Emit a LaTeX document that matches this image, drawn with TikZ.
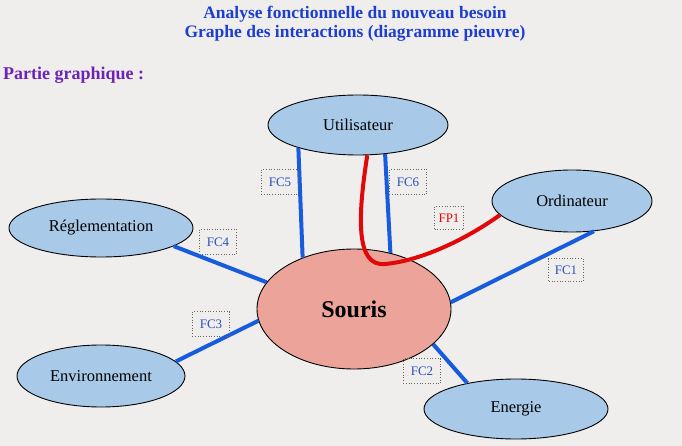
\documentclass[tikz,border=0pt]{standalone}
\usepackage{fontspec}
\setmainfont{Liberation Serif}
\usetikzlibrary{shapes.geometric}
\definecolor{bg}{RGB}{240,238,236}
\definecolor{ellblue}{RGB}{168,202,232}
\definecolor{souris}{RGB}{236,164,154}
\definecolor{linkblue}{RGB}{24,92,222}
\definecolor{linkred}{RGB}{224,8,8}
\definecolor{titleblue}{RGB}{28,62,208}
\definecolor{purp}{RGB}{108,36,182}
\definecolor{lblblue}{RGB}{40,80,190}
\tikzset{
  elem/.style={ellipse, draw=black, line width=0.9pt, fill=ellblue, inner sep=0pt, font=\fontsize{16.5}{18}\selectfont},
  link/.style={draw=linkblue, line width=4pt},
  fplink/.style={draw=linkred, line width=4pt},
  lbl/.style={draw=gray!80!black, dotted, line width=0.7pt, inner xsep=7.5pt, minimum height=25pt, text=lblblue, font=\fontsize{13}{15}\selectfont},
  titlestyle/.style={text=titleblue, font=\bfseries\fontsize{17.5}{19}\selectfont, align=center}
}
\begin{document}
\begin{tikzpicture}[x=1pt,y=-1pt]
\fill[bg] (0,0) rectangle (682,446);
\useasboundingbox (0,0) rectangle (682,446);
% titles
\node[titlestyle] (t1) at (355,14) {Analyse fonctionnelle du nouveau besoin};
\node[titlestyle] (t2) at (355,33) {Graphe des interactions (diagramme pieuvre)};
\node[anchor=west, text=purp, font=\bfseries\fontsize{18}{20}\selectfont, inner sep=0pt] (pg) at (3,75) {Partie graphique :};
% elements
\node[elem, minimum width=180pt, minimum height=60pt] (U) at (358,125) {Utilisateur};
\node[elem, minimum width=160pt, minimum height=62pt] (O) at (572,201) {Ordinateur};
\node[elem, minimum width=184pt, minimum height=58pt] (R) at (101,228) {Réglementation};
\node[elem, minimum width=168pt, minimum height=62pt] (E) at (101,376) {Environnement};
\node[elem, minimum width=184pt, minimum height=60pt] (N) at (516,409) {Energie};
\node[ellipse, draw=black, line width=0.9pt, fill=souris, inner sep=0pt, minimum width=194pt, minimum height=120pt, font=\bfseries\fontsize{24}{27}\selectfont] (S) at (354,309) {Souris};
% links
\draw[link] (U.201.8) -- (S.135);
\draw[link] (U.-47.1) -- (S.57.5);
\draw[link] (R.-14.9) -- (S.163.2);
\draw[link] (E.11.7) -- (S.187.7);
\draw[link] (S.4.1) -- (O.-54.3);
\draw[link] (S.-24.8) -- (N.152.5);
\coordinate (fpmid) at (385,264);
\draw[fplink] (U.-73.3) .. controls (358,215) and (355,267) .. (fpmid) .. controls (420,261) and (465,240) .. (O.191.8);
% labels
\node[lbl] (l5) at (280,182) {FC5};
\node[lbl] (l6) at (408,182) {FC6};
\node[lbl, text=linkred, inner xsep=4pt, minimum height=23pt] (lp1) at (449,218) {FP1};
\node[lbl] (l4) at (218,242) {FC4};
\node[lbl] (l3) at (211,324) {FC3};
\node[lbl, inner xsep=6pt, minimum height=23pt] (l1) at (566,270) {FC1};
\node[lbl] (l2) at (422,371) {FC2};
\end{tikzpicture}
\end{document}
